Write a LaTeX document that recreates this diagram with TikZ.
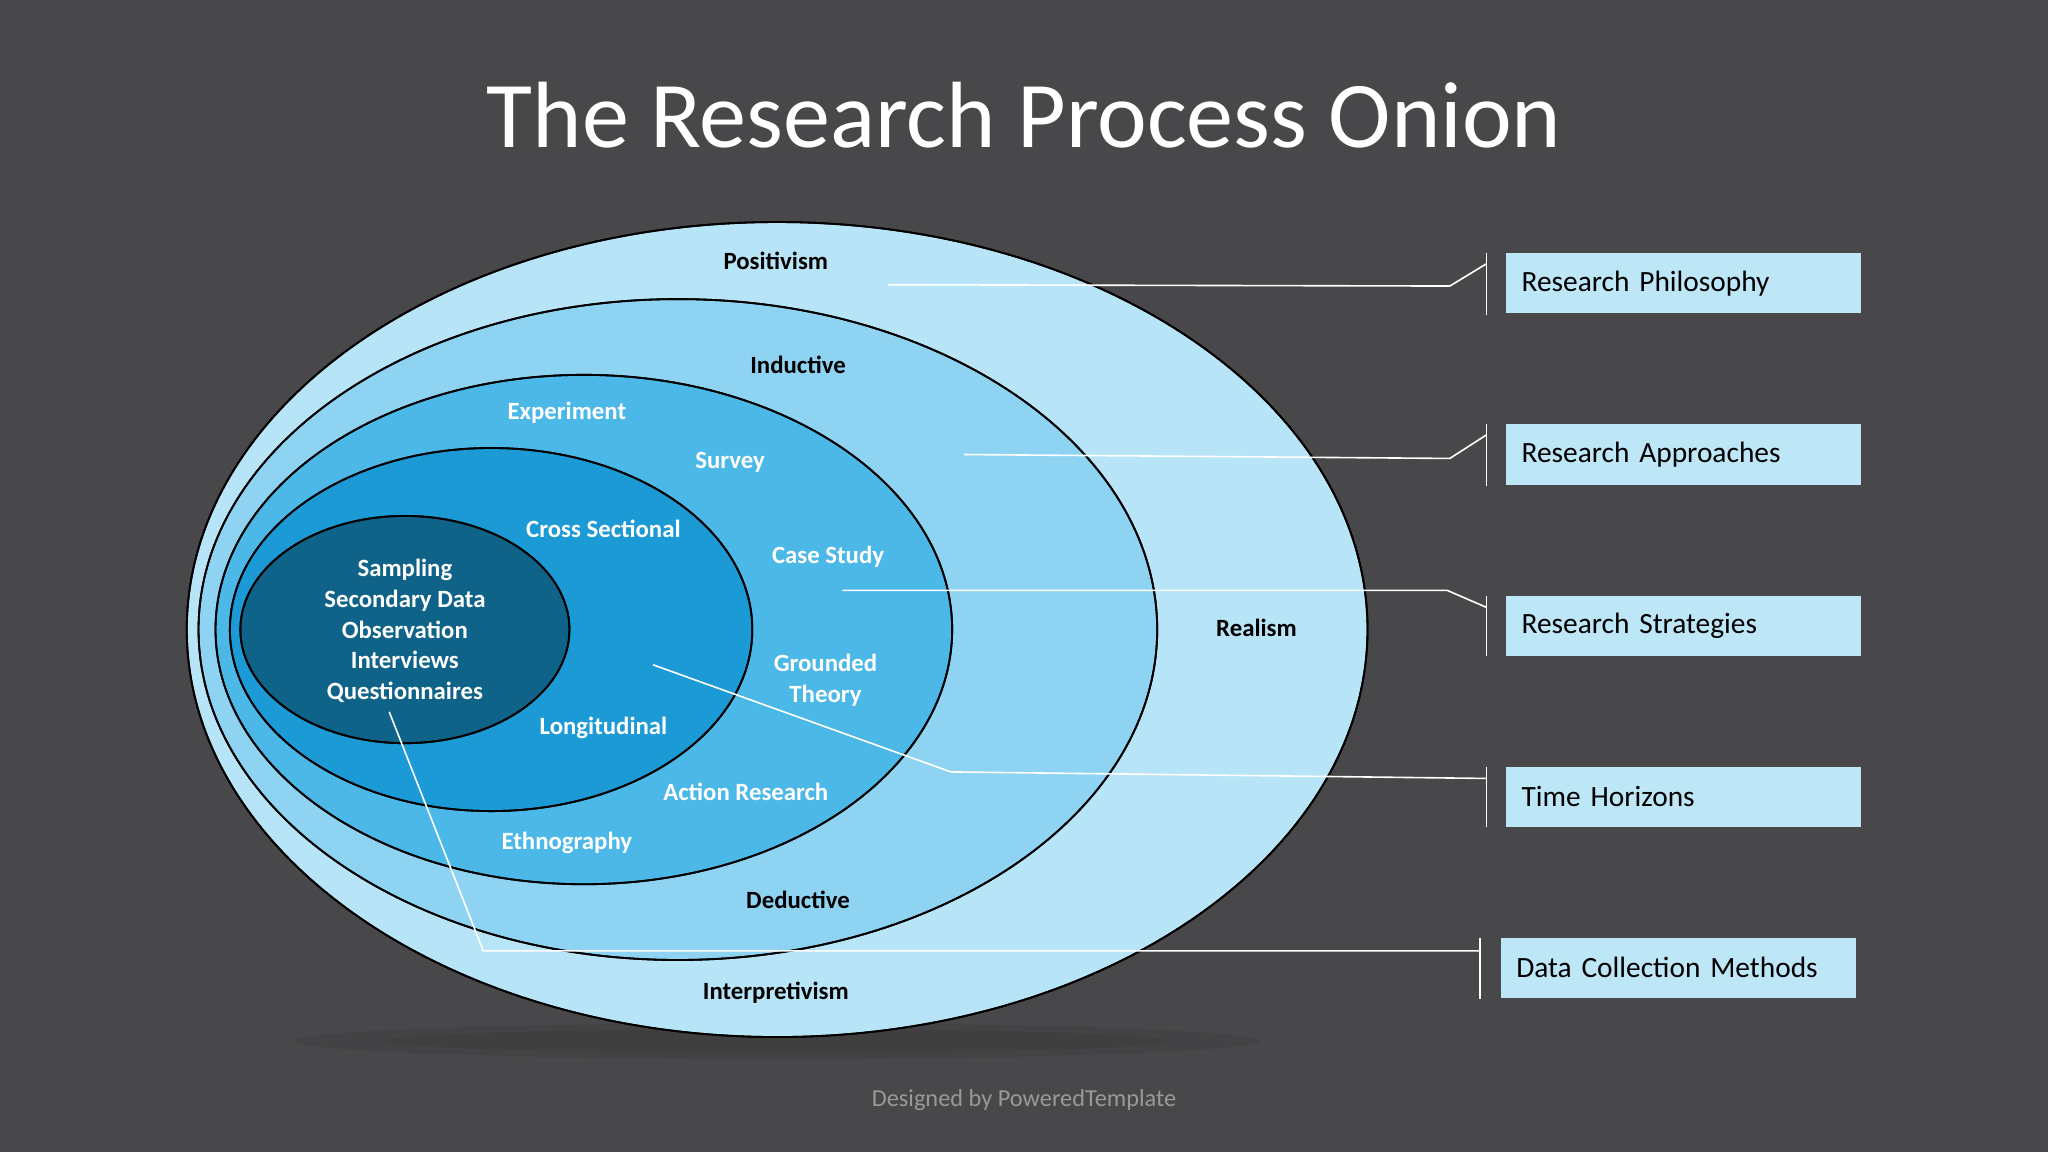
\documentclass[tikz,border=0pt]{standalone}
\usepackage{fontspec}
\setmainfont{Carlito}
\usetikzlibrary{positioning}
\definecolor{bgcol}{HTML}{48484A}
\definecolor{layA}{HTML}{B8E4F7}
\definecolor{layB}{HTML}{8ED3F2}
\definecolor{layC}{HTML}{4CB8E8}
\definecolor{layD}{HTML}{1C9AD6}
\definecolor{layE}{HTML}{0F6388}
\definecolor{tagcol}{HTML}{BDE6F7}
\tikzset{
  layer/.style={draw=black, line width=0.4pt},
  dark/.style={font=\fontsize{5.4pt}{6pt}\selectfont\bfseries, text=black, align=center},
  light/.style={font=\fontsize{5.4pt}{6.7pt}\selectfont\bfseries, text=white, align=center},
  tag/.style={fill=tagcol, minimum width=2.72cm, minimum height=0.46cm, inner xsep=0.12cm,
    text width=2.48cm, align=left, font=\fontsize{6.4pt}{7pt}\selectfont, text=black},
  lead/.style={draw=white, line width=0.35pt},
}
\begin{document}
\begin{tikzpicture}[x=0.01cm, y=-0.01cm]
\fill [bgcol] (0,0) rectangle (1568,882);
\useasboundingbox (0,0) rectangle (1568,882);
% title
\node (title) [text=white, font=\fontsize{20.5pt}{24pt}\selectfont] at (784,88) {The Research Process Onion};
% shadow
\fill [black, opacity=0.06] (595,797) ellipse (370 and 14);
\fill [black, opacity=0.06] (595,797) ellipse (300 and 9);
% onion layers
\fill [layer, fill=layA] (595,482) ellipse (452 and 312);
\fill [layer, fill=layB] (519,482) ellipse (367 and 253);
\fill [layer, fill=layC] (447,482) ellipse (282 and 195);
\fill [layer, fill=layD] (376,482) ellipse (200 and 139);
\fill [layer, fill=layE] (310,482) ellipse (126 and 87);
\draw [layer] (595,482) ellipse (452 and 312);
\draw [layer] (519,482) ellipse (367 and 253);
\draw [layer] (447,482) ellipse (282 and 195);
\draw [layer] (376,482) ellipse (200 and 139);
\draw [layer] (310,482) ellipse (126 and 87);
% layer labels
\node (pos) [dark] at (594,200) {Positivism};
\node (int) [dark] at (594,760) {Interpretivism};
\node (rea) [dark] at (962,481) {Realism};
\node (ind) [dark] at (611,279) {Inductive};
\node (ded) [dark] at (611,689) {Deductive};
\node (exp) [light] at (434,316) {Experiment};
\node (sur) [light] at (559,354) {Survey};
\node (cas) [light] at (634,426) {Case Study};
\node (gro) [light] at (632,521) {Grounded\\ Theory};
\node (act) [light] at (571,606) {Action Research};
\node (eth) [light] at (434,645) {Ethnography};
\node (cro) [light] at (462,405) {Cross Sectional};
\node (lon) [light] at (462,557) {Longitudinal};
\node (dat) [light] at (310,483) {Sampling\\ Secondary Data\\ Observation\\ Interviews\\ Questionnaires};
% tags
\node (phil) [tag] at (1289,217) {Research Philosophy};
\node (appr) [tag] at (1289,348) {Research Approaches};
\node (stra) [tag] at (1289,479) {Research Strategies};
\node (time) [tag] at (1289,610) {Time Horizons};
\node (meth) [tag] at (1285,741) {Data Collection Methods};
% leader lines
\coordinate (pA) at (680,218);
\coordinate (pB) at (738,348);
\coordinate (pC) at (645,452);
\coordinate (pD) at (500,509);
\coordinate (pE) at (298,545);
\draw [lead] (pA) -- (1110,219) -- (1138,202);
\draw [lead] (1138,194) -- (1138,241);
\draw [lead] (pB) -- (1110,351) -- (1138,333);
\draw [lead] (1138,325) -- (1138,372);
\draw [lead] (pC) -- (1108,452) -- (1138,465);
\draw [lead] (1138,456) -- (1138,502);
\draw [lead] (pD) -- (728,591) -- (1138,596);
\draw [lead] (1138,587) -- (1138,633);
\draw [lead] (pE) -- (370,728) -- (1133,728);
\draw [lead] (1133,718) -- (1133,765);
% footer
\node (foot) [text=gray!80, font=\fontsize{5.3pt}{6pt}\selectfont] at (784,842) {Designed by PoweredTemplate};
\end{tikzpicture}
\end{document}
